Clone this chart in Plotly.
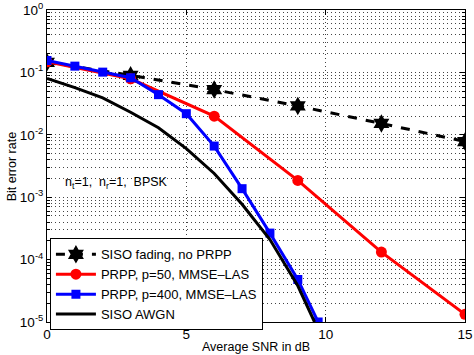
import plotly.graph_objects as go

# ---- data ----
snr_fading = [0, 3, 6, 9, 12, 15]
ber_fading = [0.145, 0.09, 0.053, 0.029, 0.0152, 0.0078]

snr_p50 = [0, 3, 6, 9, 12, 15]
ber_p50 = [0.148, 0.079, 0.0199, 0.00186, 1.32e-4, 1.33e-5]

snr_p400 = [0, 1, 2, 3, 4, 5, 6, 7, 8, 9, 9.73]
ber_p400 = [0.155, 0.126, 0.101, 0.082, 0.044, 0.0218, 0.0066, 0.00137, 2.66e-4, 4.8e-5, 1.0e-5]

snr_awgn = [0, 1, 2, 3, 4, 5, 6, 7, 8, 9, 9.6]
ber_awgn = [0.08, 0.057, 0.039, 0.023, 0.013, 0.006, 0.0024, 7.7e-4, 2.1e-4, 3.8e-5, 1.0e-5]

x_ticks = [0, 5, 10, 15]
y_tickvals = [1e0, 1e-1, 1e-2, 1e-3, 1e-4, 1e-5]
y_ticktext = ["10<sup>0</sup>", "10<sup>-1</sup>", "10<sup>-2</sup>", "10<sup>-3</sup>",
              "10<sup>-4</sup>", "10<sup>-5</sup>"]

font = "Liberation Sans, Arial, sans-serif"
grid_dash = "1px,3px"

fig = go.Figure()
fig.add_trace(go.Scatter(x=snr_fading, y=ber_fading, name="SISO fading, no PRPP",
                         mode="lines+markers",
                         line=dict(color="black", width=3, dash="dash"),
                         marker=dict(symbol="hexagram", size=14, color="black")))
fig.add_trace(go.Scatter(x=snr_p50, y=ber_p50, name="PRPP, p=50, MMSE\u2013LAS",
                         mode="lines+markers",
                         line=dict(color="#ff0000", width=3),
                         marker=dict(symbol="circle", size=11, color="#ff0000")))
fig.add_trace(go.Scatter(x=snr_p400, y=ber_p400, name="PRPP, p=400, MMSE\u2013LAS",
                         mode="lines+markers",
                         line=dict(color="#0000ff", width=3),
                         marker=dict(symbol="square", size=9, color="#0000ff")))
fig.add_trace(go.Scatter(x=snr_awgn, y=ber_awgn, name="SISO AWGN",
                         mode="lines",
                         line=dict(color="black", width=3)))

fig.add_annotation(x=0.58, y=-2.78, xref="x", yref="y",
                   text="n<sub>t</sub>=1,  n<sub>r</sub>=1,  BPSK",
                   showarrow=False, xanchor="left", yanchor="middle",
                   font=dict(family=font, size=12.5, color="black"))

fig.add_annotation(x=0.5, y=-0.08, xref="paper", yref="paper",
                   text="Average SNR in dB", showarrow=False,
                   xanchor="center", yanchor="middle",
                   font=dict(family=font, size=12.5, color="black"))

fig.add_annotation(x=-0.083, y=0.5, xref="paper", yref="paper",
                   text="Bit error rate", showarrow=False, textangle=-90,
                   xanchor="center", yanchor="middle",
                   font=dict(family=font, size=12.5, color="black"))

fig.update_layout(
    width=474, height=355,
    margin=dict(l=47, r=9, t=10, b=33),
    plot_bgcolor="white", paper_bgcolor="white",
    font=dict(family=font, size=13.5, color="black"),
    showlegend=True,
    legend=dict(x=0.007, y=0.268, xanchor="left", yanchor="top",
                bgcolor="white", bordercolor="black", borderwidth=1,
                font=dict(family=font, size=13, color="black"),
                tracegroupgap=0, itemwidth=40),
    xaxis=dict(range=[0, 15], tickvals=x_ticks, showline=True, linecolor="black",
               linewidth=1, mirror="ticks", ticks="inside", ticklen=5, tickcolor="black",
               showgrid=True, gridcolor="#444444", griddash=grid_dash, gridwidth=1,
               zeroline=False, automargin=False),
    yaxis=dict(type="log", range=[-5, 0], tickvals=y_tickvals, ticktext=y_ticktext,
               showline=True, linecolor="black", linewidth=1, mirror="ticks",
               ticks="inside", ticklen=5, tickcolor="black",
               showgrid=True, gridcolor="#444444", griddash=grid_dash, gridwidth=1,
               minor=dict(dtick="D1", showgrid=True, gridcolor="#444444", griddash=grid_dash,
                          ticks="inside", ticklen=3, tickcolor="black"),
               zeroline=False, automargin=False),
)

fig.write_html("out.html", config={"displayModeBar": False},
               post_script="document.body.style.margin='0';document.body.style.overflow='hidden';")
